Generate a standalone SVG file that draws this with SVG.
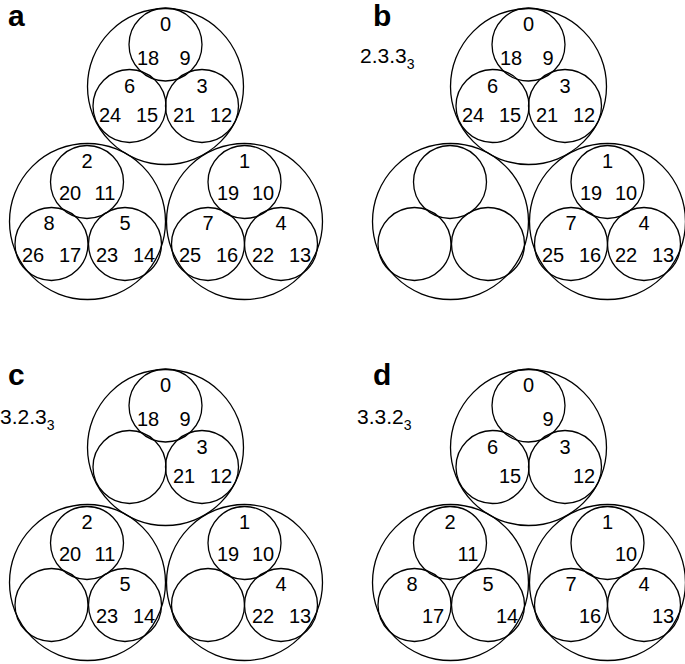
<svg xmlns="http://www.w3.org/2000/svg" xmlns:xlink="http://www.w3.org/1999/xlink" width="685" height="664" viewBox="0 0 685 664">
<style>
circle{fill:none;stroke:#000;stroke-width:1.3}
text{font-family:"Liberation Sans",Arial,sans-serif;font-size:20px;fill:#000;text-anchor:middle}
.lab{font-size:30px;font-weight:bold;text-anchor:start}
.code{font-size:21px;text-anchor:start}
</style>
<defs>
<g id="circ">
<circle cx="165.5" cy="86.5" r="78"/>
<circle cx="165.5" cy="44.5" r="36.5"/><circle cx="129.5" cy="106" r="36.5"/><circle cx="202" cy="106" r="36.5"/>
<circle cx="87.5" cy="221.5" r="78"/>
<circle cx="87" cy="182" r="36.5"/><circle cx="51.5" cy="244" r="36.5"/><circle cx="125" cy="244" r="36.5"/>
<circle cx="244.5" cy="221.5" r="78"/>
<circle cx="244.5" cy="182" r="36.5"/><circle cx="208" cy="244" r="36.5"/><circle cx="281" cy="244" r="36.5"/>
</g>
</defs>
<g id="panel-a">
<text class="lab" x="8" y="26">a</text>
<use xlink:href="#circ"/>
<text x="165.5" y="31">0</text><text x="148" y="65">18</text><text x="185" y="65">9</text>
<text x="129.5" y="93">6</text><text x="110" y="122">24</text><text x="147" y="122">15</text>
<text x="202" y="93">3</text><text x="184" y="122">21</text><text x="221" y="122">12</text>
<text x="87" y="168">2</text><text x="70" y="200">20</text><text x="105" y="200">11</text>
<text x="49" y="230">8</text><text x="33" y="262">26</text><text x="70" y="262">17</text>
<text x="125" y="230">5</text><text x="107" y="262">23</text><text x="144" y="262">14</text>
<text x="244.5" y="168">1</text><text x="228" y="200">19</text><text x="263" y="200">10</text>
<text x="208" y="230">7</text><text x="190" y="262">25</text><text x="227" y="262">16</text>
<text x="281" y="230">4</text><text x="263" y="262">22</text><text x="300" y="262">13</text>
</g>
<g id="panel-b" transform="translate(363,0)">
<text class="lab" x="10" y="26">b</text>
<text class="code" x="-3" y="63">2.3.3<tspan font-size="14" dy="6">3</tspan></text>
<use xlink:href="#circ"/>
<text x="165.5" y="31">0</text><text x="148" y="65">18</text><text x="185" y="65">9</text>
<text x="129.5" y="93">6</text><text x="110" y="122">24</text><text x="147" y="122">15</text>
<text x="202" y="93">3</text><text x="184" y="122">21</text><text x="221" y="122">12</text>
<text x="244.5" y="168">1</text><text x="228" y="200">19</text><text x="263" y="200">10</text>
<text x="208" y="230">7</text><text x="190" y="262">25</text><text x="227" y="262">16</text>
<text x="281" y="230">4</text><text x="263" y="262">22</text><text x="300" y="262">13</text>
</g>
<g id="panel-c" transform="translate(0,361)">
<text class="lab" x="8" y="24">c</text>
<text class="code" x="0" y="63">3.2.3<tspan font-size="14" dy="6">3</tspan></text>
<use xlink:href="#circ"/>
<text x="165.5" y="31">0</text><text x="148" y="65">18</text><text x="185" y="65">9</text>
<text x="202" y="93">3</text><text x="184" y="122">21</text><text x="221" y="122">12</text>
<text x="87" y="168">2</text><text x="70" y="200">20</text><text x="105" y="200">11</text>
<text x="125" y="230">5</text><text x="107" y="262">23</text><text x="144" y="262">14</text>
<text x="244.5" y="168">1</text><text x="228" y="200">19</text><text x="263" y="200">10</text>
<text x="281" y="230">4</text><text x="263" y="262">22</text><text x="300" y="262">13</text>
</g>
<g id="panel-d" transform="translate(363,361)">
<text class="lab" x="10" y="24">d</text>
<text class="code" x="-6" y="63">3.3.2<tspan font-size="14" dy="6">3</tspan></text>
<use xlink:href="#circ"/>
<text x="165.5" y="31">0</text><text x="185" y="65">9</text>
<text x="129.5" y="93">6</text><text x="147" y="122">15</text>
<text x="202" y="93">3</text><text x="221" y="122">12</text>
<text x="87" y="168">2</text><text x="105" y="200">11</text>
<text x="49" y="230">8</text><text x="70" y="262">17</text>
<text x="125" y="230">5</text><text x="144" y="262">14</text>
<text x="244.5" y="168">1</text><text x="263" y="200">10</text>
<text x="208" y="230">7</text><text x="227" y="262">16</text>
<text x="281" y="230">4</text><text x="300" y="262">13</text>
</g>
</svg>
